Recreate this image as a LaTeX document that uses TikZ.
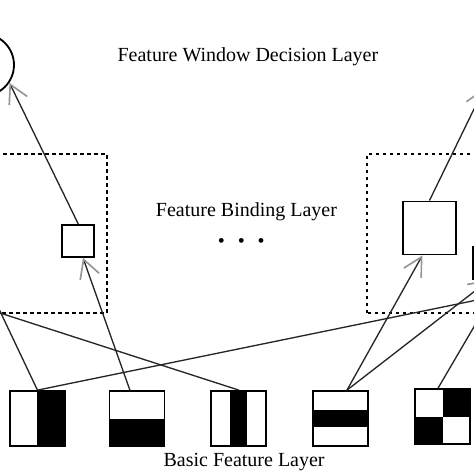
\documentclass[tikz,border=0pt]{standalone}
\usepackage{fontspec}
\setmainfont{Liberation Serif}
\usetikzlibrary{arrows.meta}
\usetikzlibrary{calc}
\definecolor{barbgray}{RGB}{150,150,150}
\tikzset{>={Straight Barb[length=11pt,width=12pt,line width=1pt,color=barbgray]}}
\tikzstyle{wire}=[draw=black!85,line width=0.8pt]
\tikzstyle{unitbox}=[draw,line width=1.1pt,fill=white,inner sep=0pt,minimum size=0.675cm]
\tikzstyle{bigunit}=[unitbox,minimum size=1.12cm]
\tikzstyle{decisionunit}=[draw,circle,line width=1.1pt,inner sep=0pt,minimum size=1.31cm]
\tikzstyle{featbox}=[draw,line width=1.1pt,inner sep=0pt,minimum size=1.16cm]
\tikzstyle{windowbox}=[draw,line width=0.9pt,dash pattern=on 2pt off 2.2pt]
\tikzstyle{layername}=[font=\fontsize{12}{14}\selectfont]
\tikzset{
  halfv/.style={path picture={\fill (path picture bounding box.north) rectangle (path picture bounding box.south east);}},
  halfh/.style={path picture={\fill (path picture bounding box.west) rectangle (path picture bounding box.south east);}},
  barv/.style={path picture={\fill ([xshift=-0.18cm]path picture bounding box.north) rectangle ([xshift=0.18cm]path picture bounding box.south);}},
  barh/.style={path picture={\fill ([yshift=0.18cm]path picture bounding box.west) rectangle ([yshift=-0.18cm]path picture bounding box.east);}},
  checker/.style={path picture={\fill (path picture bounding box.north) rectangle (path picture bounding box.east);
                                \fill (path picture bounding box.west) rectangle (path picture bounding box.south);}}
}

\begin{document}
\begin{tikzpicture}
  \useasboundingbox (0,0) rectangle (10,10);
  \clip (0,0) rectangle (10,10);

  % feature windows
  \draw[windowbox] (-1.3,3.40) rectangle (2.26,6.75);
  \draw[windowbox] (7.74,3.40) rectangle (11.3,6.75);

  % layer names
  \node[layername] (decision) at (5.23,8.80) {Feature Window Decision Layer};
  \node[layername] (binding) at (5.20,5.53) {Feature Binding Layer};
  \node[layername] (dots) at (5.09,4.87) {\textbullet\hspace{0.65em}\textbullet\hspace{0.65em}\textbullet};
  \node[layername] (basic) at (5.15,0.25) {Basic Feature Layer};

  % units
  \node[decisionunit] (dL) at (-0.36,8.63) {};
  \node[decisionunit] (dR) at (10.80,8.48) {};
  \node[unitbox] (uL) at (1.65,4.92) {};
  \node[bigunit] (uR) at (9.06,5.19) {};
  \node[unitbox] (uR2) at (10.32,4.45) {};

  % basic features
  \node[featbox,halfv] (f1) at (0.79,1.17) {};
  \node[featbox,halfh] (f2) at (2.89,1.17) {};
  \node[featbox,barv] (f3) at (5.04,1.17) {};
  \node[featbox,barh] (f4) at (7.18,1.17) {};
  \node[featbox,checker] (f5) at (9.34,1.21) {};

  % ends outside the picture
  \coordinate (outA) at (-0.5,4.49);
  \coordinate (outB) at (-0.6,3.59);
  \coordinate (outC) at (10.6,3.78);
  \coordinate (outD) at (10.5,3.96);

  % connections
  \draw[wire,->] (uL.north) -- (dL.-34);
  \draw[wire,->] (uR.north) -- (dR.210);
  \draw[wire,->] ([xshift=-0.15cm]f2.north) -- ([xshift=0.1cm]uL.south);
  \draw[wire,->] ([xshift=0.14cm]f4.north) -- ([xshift=-0.15cm]uR.south);
  \draw[wire,->] ([xshift=0.14cm]f4.north) -- (uR2.south);
  \draw[wire,->] (f1.north) -- (outA);
  \draw[wire,->] (f3.north) -- (outB);
  \draw[wire,->] (f1.north) -- (outC);
  \draw[wire,->] ([xshift=-0.1cm]f5.north) -- (outD);
\end{tikzpicture}
\end{document}
